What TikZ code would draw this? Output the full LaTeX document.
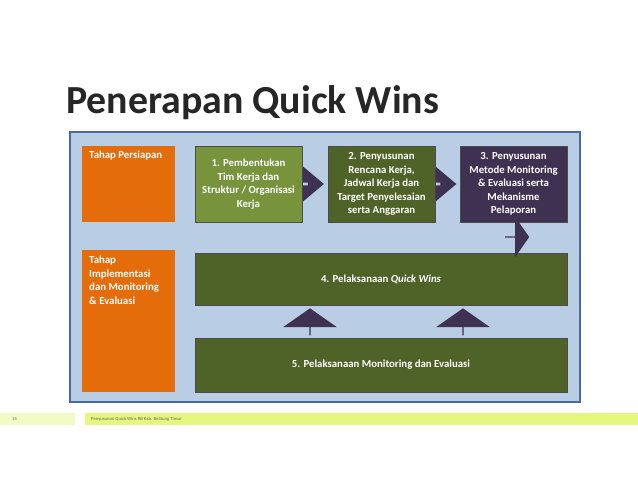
\documentclass[tikz,border=0pt]{standalone}
\usepackage{fontspec}
\setmainfont{Carlito}
\usetikzlibrary{shapes.arrows,calc}
\definecolor{panel}{HTML}{B9CDE5}
\definecolor{panelb}{HTML}{4A6A9E}
\definecolor{orng}{HTML}{E46C0A}
\definecolor{lgreen}{HTML}{77933C}
\definecolor{dgreen}{HTML}{4F6228}
\definecolor{purp}{HTML}{3F3151}
\definecolor{arr}{HTML}{3F3151}
\definecolor{foot}{HTML}{E6F77E}
\definecolor{footl}{HTML}{F2FBC4}
\begin{document}
\begin{tikzpicture}[x=0.03cm,y=-0.03cm,
  box/.style={draw=black!70,line width=0.8pt,text=white,font=\bfseries\fontsize{9.2}{11.6}\selectfont,align=center,inner sep=0pt},
  obox/.style={fill=orng,text=white,font=\bfseries\fontsize{9.2}{11.6}\selectfont,align=left,inner sep=0pt},
  rarr/.style={single arrow,fill=arr,draw=none,single arrow head extend=2.2pt,minimum width=35*0.03cm,minimum height=16*0.03cm,inner sep=0pt,single arrow tip angle=80},
  uarr/.style={single arrow,fill=arr,draw=none,shape border rotate=#1,minimum width=54*0.03cm,minimum height=27*0.03cm,inner sep=0pt,single arrow head extend=12*0.03cm,single arrow tip angle=110}]
\useasboundingbox (0,0) rectangle (638,493);
\fill[white] (0,0) rectangle (638,493);
\node[anchor=base west,font=\bfseries\fontsize{34}{34}\selectfont,text=black!85,inner sep=0pt] (title) at (66,113) {Penerapan Quick Wins};
\draw[fill=panel,draw=panelb,line width=1.5pt] (70,132) rectangle (580,402);
\fill[orng] (82,146) rectangle (175,222);
\node[obox,anchor=north west] (tp) at (89,151) {Tahap Persiapan};
\fill[orng] (82,250) rectangle (175,392);
\node[obox,anchor=north west] (ti) at (89,256) {Tahap\\Implementasi\\dan Monitoring\\\& Evaluasi};
\node[box,fill=lgreen,minimum width=107*0.03cm,minimum height=76*0.03cm] (b1) at (248.5,184) {1. Pembentukan\\Tim Kerja dan\\Struktur / Organisasi\\Kerja};
\node[box,fill=dgreen,minimum width=107*0.03cm,minimum height=76*0.03cm] (b2) at (381.5,184) {2. Penyusunan\\Rencana Kerja,\\Jadwal Kerja dan\\Target Penyelesaian\\serta Anggaran};
\node[box,fill=purp,minimum width=107*0.03cm,minimum height=76*0.03cm] (b3) at (513.5,184) {3. Penyusunan\\Metode Monitoring\\\& Evaluasi serta\\Mekanisme\\Pelaporan};
\node[box,fill=dgreen,minimum width=372*0.03cm,minimum height=52*0.03cm] (b4) at (381,279) {4. Pelaksanaan \textit{Quick Wins}};
\node[box,fill=dgreen,minimum width=372*0.03cm,minimum height=54*0.03cm] (b5) at (381,365) {5. Pelaksanaan Monitoring dan Evaluasi};
\node[rarr] (a1) at ($(b1.east)!0.5!(b2.west)$) {};
\node[rarr] (a2) at ($(b2.east)!0.5!(b3.west)$) {};
\node[uarr=-90,minimum width=40*0.03cm,minimum height=24*0.03cm,single arrow head extend=8*0.03cm] (a3) at (517,237) {};
\node[uarr=90] (a4) at (310,322) {};
\node[uarr=90] (a5) at (463,322) {};
\fill[footl] (0,413) rectangle (75,425);
\node[font=\fontsize{4}{4}\selectfont,text=black!60,anchor=west,inner sep=0pt] (pg) at (12,419) {15};
\fill[foot] (85,413) rectangle (638,425);
\node[font=\fontsize{4}{4}\selectfont,text=black!60,anchor=west,inner sep=0pt] (ft) at (91,419) {Penyusunan Quick Wins RB Kab. Belitung Timur};
\end{tikzpicture}
\end{document}
